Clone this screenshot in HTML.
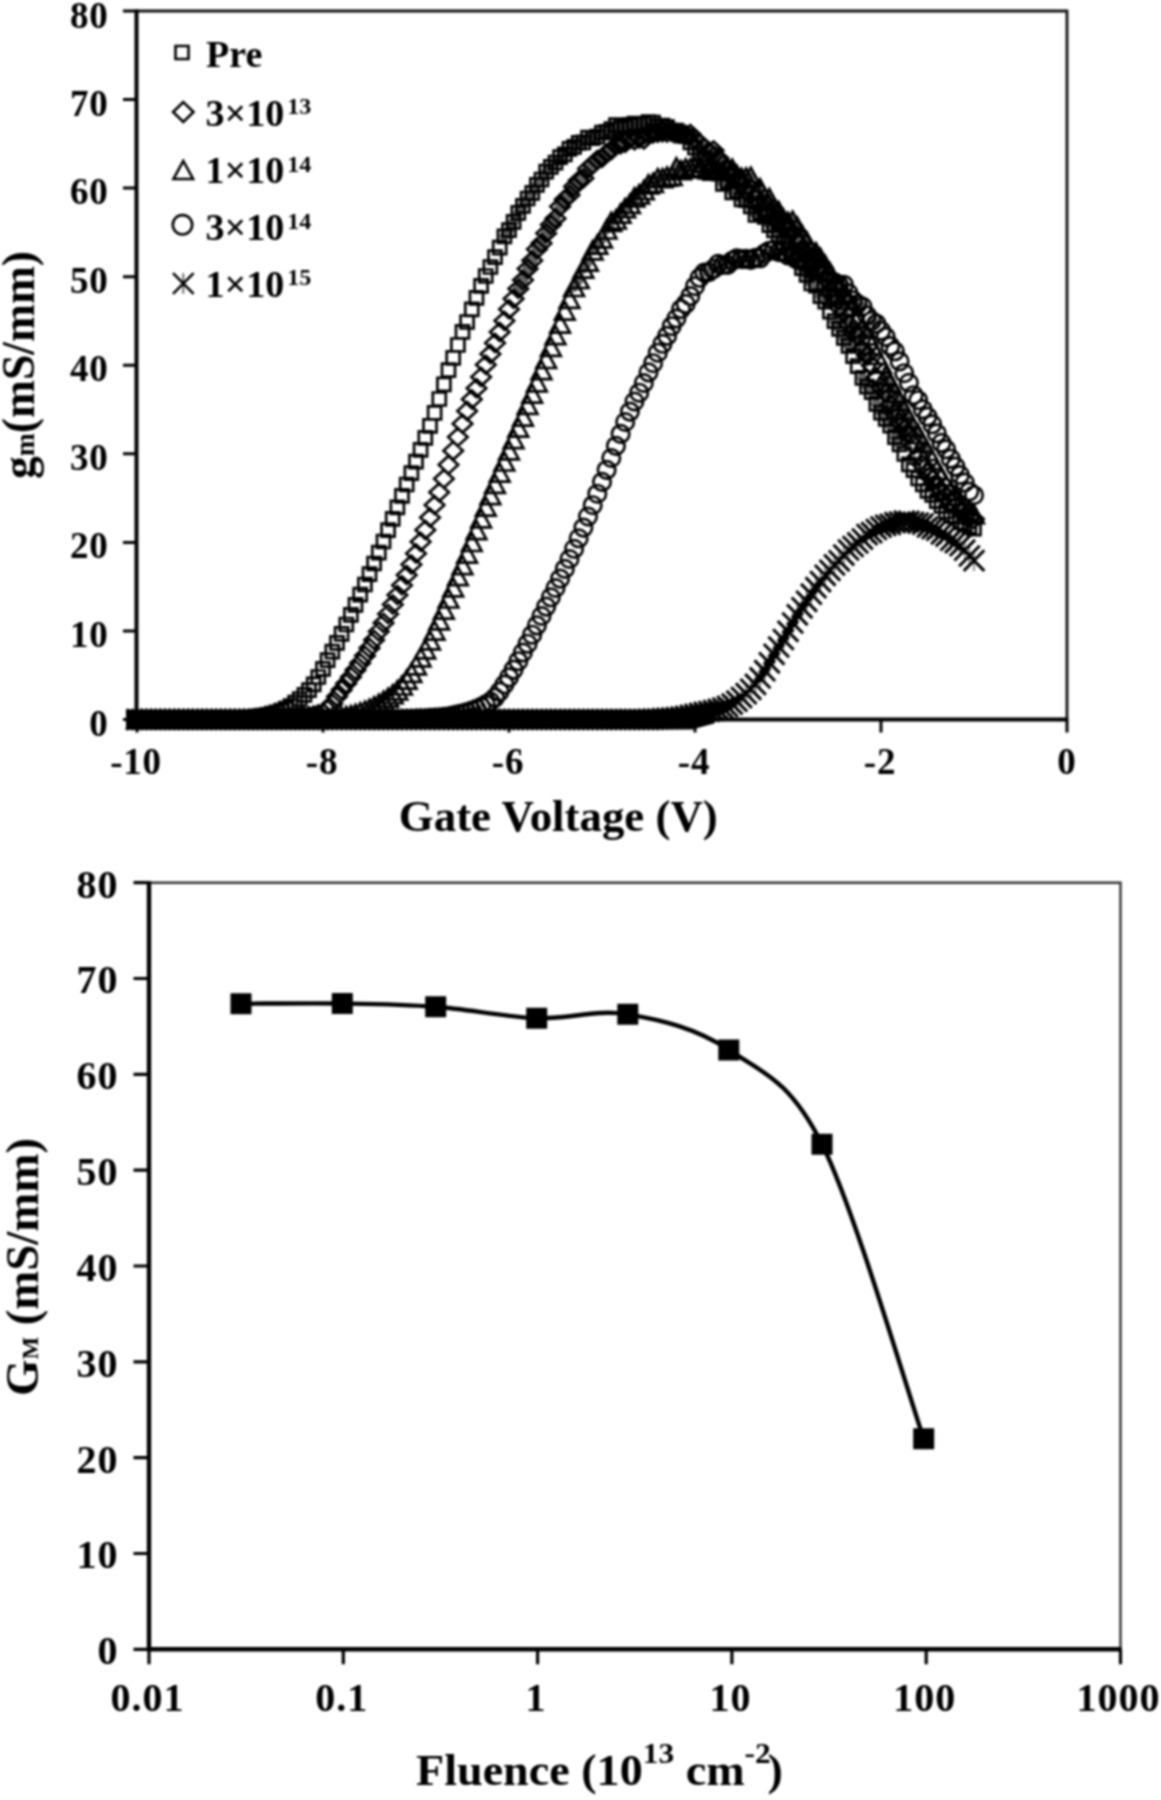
<!DOCTYPE html>
<html lang="en"><head><meta charset="utf-8"><title>Transconductance versus gate voltage and fluence</title>
<style>html,body{margin:0;padding:0;background:#fff}body{width:1161px;height:1800px;overflow:hidden}svg{display:block;filter:blur(0.8px)}text{font-family:"Liberation Serif","Times New Roman",serif;font-weight:bold;fill:#000}</style></head><body>
<svg width="1161" height="1800" viewBox="0 0 1161 1800">
<rect width="1161" height="1800" fill="#fff"/>
<g>
<g id="top-chart">
<path d="M137 11H1067V719.5" fill="none" stroke="#111" stroke-width="2.8"/>
<path d="M136.5 9.5V719.5H1068.2" fill="none" stroke="#000" stroke-width="4"/>
<path d="M123 719.5H137M123 630.9H137M123 542.4H137M123 453.8H137M123 365.2H137M123 276.7H137M123 188.1H137M123 99.6H137M123 11H137M137 719.5V732.5M323 719.5V732.5M509 719.5V732.5M695 719.5V732.5M881 719.5V732.5M1067 719.5V732.5" fill="none" stroke="#000" stroke-width="3"/>
<g font-size="37" text-anchor="end" letter-spacing="0.8">
<text x="108.5" y="735.5">0</text>
<text x="108.5" y="646.9">10</text>
<text x="108.5" y="558.4">20</text>
<text x="108.5" y="469.8">30</text>
<text x="108.5" y="381.2">40</text>
<text x="108.5" y="292.7">50</text>
<text x="108.5" y="204.1">60</text>
<text x="108.5" y="115.6">70</text>
<text x="108.5" y="27.5">80</text>
</g>
<g font-size="37" text-anchor="middle" letter-spacing="0.8">
<text x="136" y="773.5">-10</text>
<text x="322" y="773.5">-8</text>
<text x="508" y="773.5">-6</text>
<text x="694" y="773.5">-4</text>
<text x="880" y="773.5">-2</text>
<text x="1067" y="773.5">0</text>
</g>
<text x="558.3" y="830.8" font-size="44" text-anchor="middle" textLength="319" lengthAdjust="spacingAndGlyphs">Gate Voltage (V)</text>
<text transform="translate(33.8 479) rotate(-90)" font-size="46" textLength="228" lengthAdjust="spacingAndGlyphs">g<tspan font-size="28">m</tspan>(mS/mm)</text>
<path d="M126 709.5h566l22 6v8l-22 6H126z" fill="#000"/>
<g fill="none" stroke="#000" stroke-linejoin="round" stroke-linecap="round" opacity="0.6">
<path stroke-width="10" d="M504.4 236.3L509 230.2L513.6 221.8M518.3 212.9L523 205.8L527.6 198.5L532.2 192.8L536.9 184.9L541.5 179.5L546.2 171.6L550.9 166.9L555.5 162.7L560.1 157.2L564.8 154.4L569.5 148.9L574.1 146.8L578.8 142.8L583.4 142.4L588 137.6L592.7 138.1L597.4 136.7L602 132.6L606.6 131.8L611.3 129L616 125.1L620.6 128.1L625.2 126.9L629.9 124.9L634.5 123.7L639.2 123.9L643.9 123.5L648.5 122L653.1 122.5L657.8 125.8L662.5 125.6L667.1 127.1L671.8 130.9L676.4 130.5L681 135.6L685.7 136.1L690.4 142.4L695 147.6L699.6 154L704.3 157.9M709 167.6L713.6 171.1L718.2 172.8M722.9 183.8L727.5 181.5M732.2 192.4L736.9 191L741.5 199.4L746.1 200.2L750.8 206.4L755.5 215L760.1 212.9L764.8 216.9L769.4 225.1L774 230.4L778.7 235.2L783.4 242.6L788 243.7M792.6 253.9L797.3 259.5L802 268.1L806.6 274.9L811.2 283.5L815.9 285.6M820.5 296.1L825.2 301.7M834.5 321.1L839.1 328.8M843.8 337.9L848.5 345.9M862.4 377.9L867 386.7L871.7 392.1M876.4 403.9L881 412.6L885.7 418.8L890.3 425.6M895 437.2L899.6 444.4"/>
<path stroke-width="11" d="M518.3 288.7L523 280M527.6 268.7L532.2 260.6M536.9 249.2L541.5 243.2M546.2 233.2L550.9 224.7L555.5 218.4M560.1 206.6L564.8 199.5L569.5 195L574.1 186.6L578.8 180.5L583.4 178.2M588 168.7L592.7 164.3L597.4 160L602 157.7L606.6 153.2L611.3 149.9L616 145.4L620.6 144.3L625.2 142.8L629.9 139L634.5 140.2L639.2 138.6L643.9 139.4L648.5 133.6L653.1 133.5L657.8 132.7L662.5 132.3L667.1 132.6L671.8 132L676.4 132.8L681 133.5L685.7 134.7L690.4 134.1L695 138.9L699.6 143.3L704.3 147.5L709 151.4L713.6 150.5L718.2 158.1L722.9 164.4L727.5 170.6L732.2 177.4L736.9 179.6L741.5 182.1L746.1 189.8L750.8 194.1L755.5 198.8L760.1 202.7L764.8 211.5L769.4 212.8L774 218.8L778.7 219.2L783.4 227.7L788 229.3L792.6 232.3M797.3 242.2L802 248.9L806.6 253.5L811.2 260.7M815.9 269.9L820.5 274L825.2 278.1M829.9 290.3L834.5 297.7M839.1 307.2L843.8 312.6M848.5 323.8L853.1 332L857.8 336.4M862.4 349.3L867 355.8M881 386.5L885.7 393.4M890.3 404.9L895 413.6M899.6 422.6L904.2 428.9L908.9 435.4"/>
<path stroke-width="10" d="M574.1 287L578.8 279M583.4 268.7L588 261.6M592.7 250.4L597.4 244.6L602 238.4M606.6 229.5L611.3 221.8L616 219.5L620.6 213.6L625.2 208.1L629.9 203.8L634.5 197.3L639.2 194.4L643.9 190.1L648.5 184.3L653.1 182.8L657.8 178.2L662.5 178.2L667.1 176.6L671.8 175.8L676.4 167.4L681 170.2L685.7 168.3L690.4 168.3L695 167.5L699.6 167.3L704.3 162.8L709 169.4L713.6 170.6L718.2 169.6L722.9 171.1L727.5 167.4L732.2 168.7L736.9 174.8L741.5 177.8L746.1 177.5L750.8 176.7M755.5 191.2L760.1 188.3M764.8 197.7L769.4 198.1M774 208.3L778.7 211.1L783.4 218.6L788 221.8L792.6 220.7L797.3 226.8L802 234.7L806.6 241.2L811.2 249.4L815.9 252.2L820.5 258.1L825.2 265.1L829.9 272.3M834.5 281.7L839.1 286.9L843.8 294.3L848.5 299.5L853.1 306.4M862.4 327.9L867 335.3M885.7 375.4L890.3 382.7M895 392.9L899.6 400.9L904.2 409.8L908.9 418.6L913.5 426.8L918.2 434.1L922.8 442.9L927.5 451"/>
<path stroke-width="9" d="M704.3 272.6L709 272.1L713.6 268.9M718.2 263.8L722.9 265L727.5 264.9L732.2 260.9L736.9 258.4L741.5 259.1L746.1 258.9L750.8 259.9L755.5 257.7L760.1 258.3M764.8 253.5L769.4 250.7L774 249.7L778.7 252.1L783.4 251.4L788 255.5L792.6 256L797.3 259.6L802 257.6M806.6 262.6L811.2 266.5L815.9 268.4L820.5 270.9L825.2 272M829.9 279.8L834.5 282.2L839.1 285.2L843.8 284.7M853.1 300.4L857.8 304L862.4 306.5M871.7 320.8L876.4 323.6"/>
</g>
<g fill="none" stroke="#000" stroke-width="2.7" stroke-linejoin="miter">
<path d="M130.5 713h13v13h-13zM135.2 713h13v13h-13zM139.8 713h13v13h-13zM144.5 713h13v13h-13zM149.1 713h13v13h-13zM153.8 713h13v13h-13zM158.4 713h13v13h-13zM163 713h13v13h-13zM167.7 713h13v13h-13zM172.3 713h13v13h-13zM177 713h13v13h-13zM181.7 713h13v13h-13zM186.3 713h13v13h-13zM191 713h13v13h-13zM195.6 713h13v13h-13zM200.2 713h13v13h-13zM204.9 712.9h13v13h-13zM209.5 712.8h13v13h-13zM214.2 712.6h13v13h-13zM218.8 712.4h13v13h-13zM223.5 712.2h13v13h-13zM228.2 711.9h13v13h-13zM232.8 711.7h13v13h-13zM237.5 711.4h13v13h-13zM242.1 711h13v13h-13zM246.8 710.5h13v13h-13zM251.4 709.9h13v13h-13zM256 709.2h13v13h-13zM260.7 708.3h13v13h-13zM265.3 707.2h13v13h-13zM270 705.8h13v13h-13zM274.7 704.2h13v13h-13zM279.3 702.2h13v13h-13zM284 699.5h13v13h-13zM288.6 696.2h13v13h-13zM293.2 692.5h13v13h-13zM297.9 688.3h13v13h-13zM302.5 683.7h13v13h-13zM307.2 677.8h13v13h-13zM311.8 670.5h13v13h-13zM316.5 662.3h13v13h-13zM321.1 653.7h13v13h-13zM325.8 645.1h13v13h-13zM330.5 636.4h13v13h-13zM335.1 627.4h13v13h-13zM339.8 618h13v13h-13zM344.4 608.3h13v13h-13zM349 598.3h13v13h-13zM353.7 588.2h13v13h-13zM358.4 578h13v13h-13zM363 567.6h13v13h-13zM367.6 557h13v13h-13zM372.3 546.1h13v13h-13zM377 535h13v13h-13zM381.6 523.7h13v13h-13zM386.2 512.3h13v13h-13zM390.9 500.8h13v13h-13zM395.5 489.4h13v13h-13zM400.2 478h13v13h-13zM404.9 466.6h13v13h-13zM409.5 455.1h13v13h-13zM414.1 443.4h13v13h-13zM418.8 431.4h13v13h-13zM423.5 419.3h13v13h-13zM428.1 406.4h13v13h-13zM432.8 392.5h13v13h-13zM437.4 377.9h13v13h-13zM442 363.6h13v13h-13zM446.7 351.4h13v13h-13zM451.4 338.5h13v13h-13zM456 325.3h13v13h-13zM460.6 315.5h13v13h-13zM465.3 302.8h13v13h-13zM470 291.4h13v13h-13zM474.6 279.3h13v13h-13zM479.2 269.5h13v13h-13zM483.9 260.5h13v13h-13zM488.5 250.7h13v13h-13zM493.2 241.2h13v13h-13zM497.9 229.8h13v13h-13zM502.5 223.7h13v13h-13zM507.1 215.3h13v13h-13zM511.8 206.4h13v13h-13zM516.5 199.3h13v13h-13zM521.1 192h13v13h-13zM525.8 186.3h13v13h-13zM530.4 178.4h13v13h-13zM535 173h13v13h-13zM539.7 165.1h13v13h-13zM544.4 160.4h13v13h-13zM549 156.2h13v13h-13zM553.6 150.7h13v13h-13zM558.3 147.9h13v13h-13zM563 142.4h13v13h-13zM567.6 140.3h13v13h-13zM572.2 136.3h13v13h-13zM576.9 135.9h13v13h-13zM581.5 131.1h13v13h-13zM586.2 131.6h13v13h-13zM590.9 130.2h13v13h-13zM595.5 126.1h13v13h-13zM600.1 125.3h13v13h-13zM604.8 122.5h13v13h-13zM609.5 118.6h13v13h-13zM614.1 121.6h13v13h-13zM618.8 120.4h13v13h-13zM623.4 118.4h13v13h-13zM628 117.2h13v13h-13zM632.7 117.4h13v13h-13zM637.4 117h13v13h-13zM642 115.5h13v13h-13zM646.6 116h13v13h-13zM651.3 119.3h13v13h-13zM656 119.1h13v13h-13zM660.6 120.6h13v13h-13zM665.2 124.4h13v13h-13zM669.9 124h13v13h-13zM674.5 129.1h13v13h-13zM679.2 129.6h13v13h-13zM683.9 135.9h13v13h-13zM688.5 141.1h13v13h-13zM693.1 147.5h13v13h-13zM697.8 151.4h13v13h-13zM702.5 161.1h13v13h-13zM707.1 164.6h13v13h-13zM711.8 166.3h13v13h-13zM716.4 177.3h13v13h-13zM721 175h13v13h-13zM725.7 185.9h13v13h-13zM730.4 184.5h13v13h-13zM735 192.9h13v13h-13zM739.6 193.7h13v13h-13zM744.3 199.9h13v13h-13zM749 208.5h13v13h-13zM753.6 206.4h13v13h-13zM758.2 210.4h13v13h-13zM762.9 218.6h13v13h-13zM767.5 223.9h13v13h-13zM772.2 228.7h13v13h-13zM776.9 236.1h13v13h-13zM781.5 237.2h13v13h-13zM786.1 247.4h13v13h-13zM790.8 253h13v13h-13zM795.5 261.6h13v13h-13zM800.1 268.4h13v13h-13zM804.8 277h13v13h-13zM809.4 279.1h13v13h-13zM814 289.6h13v13h-13zM818.7 295.2h13v13h-13zM823.4 305.1h13v13h-13zM828 314.6h13v13h-13zM832.6 322.3h13v13h-13zM837.3 331.4h13v13h-13zM842 339.4h13v13h-13zM846.6 349.7h13v13h-13zM851.2 359.6h13v13h-13zM855.9 371.4h13v13h-13zM860.5 380.2h13v13h-13zM865.2 385.6h13v13h-13zM869.9 397.4h13v13h-13zM874.5 406.1h13v13h-13zM879.2 412.3h13v13h-13zM883.8 419.1h13v13h-13zM888.5 430.7h13v13h-13zM893.1 437.9h13v13h-13zM897.8 447.5h13v13h-13zM902.4 457.8h13v13h-13zM907 463.7h13v13h-13zM911.7 472h13v13h-13zM916.3 477.8h13v13h-13zM921 484.3h13v13h-13zM925.7 488.4h13v13h-13zM930.3 494.7h13v13h-13zM935 499.3h13v13h-13zM939.6 505h13v13h-13zM944.2 509.3h13v13h-13zM948.9 510.5h13v13h-13zM953.5 515.8h13v13h-13zM958.2 517.7h13v13h-13zM962.9 520.2h13v13h-13zM967.5 522.2h13v13h-13z"/>
<path d="M137 710.6l9.7 8.9l-9.7 8.9l-9.7 -8.9zM141.7 710.6l9.7 8.9l-9.7 8.9l-9.7 -8.9zM146.3 710.6l9.7 8.9l-9.7 8.9l-9.7 -8.9zM151 710.6l9.7 8.9l-9.7 8.9l-9.7 -8.9zM155.6 710.6l9.7 8.9l-9.7 8.9l-9.7 -8.9zM160.2 710.6l9.7 8.9l-9.7 8.9l-9.7 -8.9zM164.9 710.6l9.7 8.9l-9.7 8.9l-9.7 -8.9zM169.5 710.6l9.7 8.9l-9.7 8.9l-9.7 -8.9zM174.2 710.6l9.7 8.9l-9.7 8.9l-9.7 -8.9zM178.8 710.6l9.7 8.9l-9.7 8.9l-9.7 -8.9zM183.5 710.6l9.7 8.9l-9.7 8.9l-9.7 -8.9zM188.2 710.6l9.7 8.9l-9.7 8.9l-9.7 -8.9zM192.8 710.6l9.7 8.9l-9.7 8.9l-9.7 -8.9zM197.5 710.6l9.7 8.9l-9.7 8.9l-9.7 -8.9zM202.1 710.6l9.7 8.9l-9.7 8.9l-9.7 -8.9zM206.8 710.6l9.7 8.9l-9.7 8.9l-9.7 -8.9zM211.4 710.6l9.7 8.9l-9.7 8.9l-9.7 -8.9zM216 710.6l9.7 8.9l-9.7 8.9l-9.7 -8.9zM220.7 710.6l9.7 8.9l-9.7 8.9l-9.7 -8.9zM225.3 710.6l9.7 8.9l-9.7 8.9l-9.7 -8.9zM230 710.6l9.7 8.9l-9.7 8.9l-9.7 -8.9zM234.7 710.6l9.7 8.9l-9.7 8.9l-9.7 -8.9zM239.3 710.6l9.7 8.9l-9.7 8.9l-9.7 -8.9zM244 710.6l9.7 8.9l-9.7 8.9l-9.7 -8.9zM248.6 710.6l9.7 8.9l-9.7 8.9l-9.7 -8.9zM253.2 710.6l9.7 8.9l-9.7 8.9l-9.7 -8.9zM257.9 710.5l9.7 8.9l-9.7 8.9l-9.7 -8.9zM262.5 710.3l9.7 8.9l-9.7 8.9l-9.7 -8.9zM267.2 710.2l9.7 8.9l-9.7 8.9l-9.7 -8.9zM271.8 710l9.7 8.9l-9.7 8.9l-9.7 -8.9zM276.5 709.7l9.7 8.9l-9.7 8.9l-9.7 -8.9zM281.2 709.5l9.7 8.9l-9.7 8.9l-9.7 -8.9zM285.8 709.3l9.7 8.9l-9.7 8.9l-9.7 -8.9zM290.5 709l9.7 8.9l-9.7 8.9l-9.7 -8.9zM295.1 708.7l9.7 8.9l-9.7 8.9l-9.7 -8.9zM299.8 708.4l9.7 8.9l-9.7 8.9l-9.7 -8.9zM304.4 707.9l9.7 8.9l-9.7 8.9l-9.7 -8.9zM309 707.3l9.7 8.9l-9.7 8.9l-9.7 -8.9zM313.7 706.5l9.7 8.9l-9.7 8.9l-9.7 -8.9zM318.3 705.4l9.7 8.9l-9.7 8.9l-9.7 -8.9zM323 703.9l9.7 8.9l-9.7 8.9l-9.7 -8.9zM327.6 700.8l9.7 8.9l-9.7 8.9l-9.7 -8.9zM332.3 694.9l9.7 8.9l-9.7 8.9l-9.7 -8.9zM337 687.7l9.7 8.9l-9.7 8.9l-9.7 -8.9zM341.6 681l9.7 8.9l-9.7 8.9l-9.7 -8.9zM346.2 674.6l9.7 8.9l-9.7 8.9l-9.7 -8.9zM350.9 668l9.7 8.9l-9.7 8.9l-9.7 -8.9zM355.5 661.2l9.7 8.9l-9.7 8.9l-9.7 -8.9zM360.2 654.2l9.7 8.9l-9.7 8.9l-9.7 -8.9zM364.9 646.8l9.7 8.9l-9.7 8.9l-9.7 -8.9zM369.5 639l9.7 8.9l-9.7 8.9l-9.7 -8.9zM374.1 631l9.7 8.9l-9.7 8.9l-9.7 -8.9zM378.8 622.6l9.7 8.9l-9.7 8.9l-9.7 -8.9zM383.5 614l9.7 8.9l-9.7 8.9l-9.7 -8.9zM388.1 605l9.7 8.9l-9.7 8.9l-9.7 -8.9zM392.8 595.7l9.7 8.9l-9.7 8.9l-9.7 -8.9zM397.4 586.2l9.7 8.9l-9.7 8.9l-9.7 -8.9zM402 576.4l9.7 8.9l-9.7 8.9l-9.7 -8.9zM406.7 566.2l9.7 8.9l-9.7 8.9l-9.7 -8.9zM411.4 555.7l9.7 8.9l-9.7 8.9l-9.7 -8.9zM416 544.5l9.7 8.9l-9.7 8.9l-9.7 -8.9zM420.6 532.9l9.7 8.9l-9.7 8.9l-9.7 -8.9zM425.3 521l9.7 8.9l-9.7 8.9l-9.7 -8.9zM430 508.7l9.7 8.9l-9.7 8.9l-9.7 -8.9zM434.6 496.2l9.7 8.9l-9.7 8.9l-9.7 -8.9zM439.2 483.4l9.7 8.9l-9.7 8.9l-9.7 -8.9zM443.9 469.9l9.7 8.9l-9.7 8.9l-9.7 -8.9zM448.5 455.9l9.7 8.9l-9.7 8.9l-9.7 -8.9zM453.2 441.8l9.7 8.9l-9.7 8.9l-9.7 -8.9zM457.9 428.2l9.7 8.9l-9.7 8.9l-9.7 -8.9zM462.5 414.8l9.7 8.9l-9.7 8.9l-9.7 -8.9zM467.1 402l9.7 8.9l-9.7 8.9l-9.7 -8.9zM471.8 390.4l9.7 8.9l-9.7 8.9l-9.7 -8.9zM476.5 379.3l9.7 8.9l-9.7 8.9l-9.7 -8.9zM481.1 368l9.7 8.9l-9.7 8.9l-9.7 -8.9zM485.8 355.8l9.7 8.9l-9.7 8.9l-9.7 -8.9zM490.4 345.2l9.7 8.9l-9.7 8.9l-9.7 -8.9zM495 334.1l9.7 8.9l-9.7 8.9l-9.7 -8.9zM499.7 323l9.7 8.9l-9.7 8.9l-9.7 -8.9zM504.4 311.9l9.7 8.9l-9.7 8.9l-9.7 -8.9zM509 300.3l9.7 8.9l-9.7 8.9l-9.7 -8.9zM513.6 289.8l9.7 8.9l-9.7 8.9l-9.7 -8.9zM518.3 279.8l9.7 8.9l-9.7 8.9l-9.7 -8.9zM523 271.1l9.7 8.9l-9.7 8.9l-9.7 -8.9zM527.6 259.8l9.7 8.9l-9.7 8.9l-9.7 -8.9zM532.2 251.7l9.7 8.9l-9.7 8.9l-9.7 -8.9zM536.9 240.3l9.7 8.9l-9.7 8.9l-9.7 -8.9zM541.5 234.3l9.7 8.9l-9.7 8.9l-9.7 -8.9zM546.2 224.3l9.7 8.9l-9.7 8.9l-9.7 -8.9zM550.9 215.8l9.7 8.9l-9.7 8.9l-9.7 -8.9zM555.5 209.5l9.7 8.9l-9.7 8.9l-9.7 -8.9zM560.1 197.7l9.7 8.9l-9.7 8.9l-9.7 -8.9zM564.8 190.6l9.7 8.9l-9.7 8.9l-9.7 -8.9zM569.5 186.1l9.7 8.9l-9.7 8.9l-9.7 -8.9zM574.1 177.7l9.7 8.9l-9.7 8.9l-9.7 -8.9zM578.8 171.6l9.7 8.9l-9.7 8.9l-9.7 -8.9zM583.4 169.3l9.7 8.9l-9.7 8.9l-9.7 -8.9zM588 159.8l9.7 8.9l-9.7 8.9l-9.7 -8.9zM592.7 155.4l9.7 8.9l-9.7 8.9l-9.7 -8.9zM597.4 151.1l9.7 8.9l-9.7 8.9l-9.7 -8.9zM602 148.8l9.7 8.9l-9.7 8.9l-9.7 -8.9zM606.6 144.3l9.7 8.9l-9.7 8.9l-9.7 -8.9zM611.3 141l9.7 8.9l-9.7 8.9l-9.7 -8.9zM616 136.5l9.7 8.9l-9.7 8.9l-9.7 -8.9zM620.6 135.4l9.7 8.9l-9.7 8.9l-9.7 -8.9zM625.2 133.9l9.7 8.9l-9.7 8.9l-9.7 -8.9zM629.9 130.1l9.7 8.9l-9.7 8.9l-9.7 -8.9zM634.5 131.3l9.7 8.9l-9.7 8.9l-9.7 -8.9zM639.2 129.7l9.7 8.9l-9.7 8.9l-9.7 -8.9zM643.9 130.5l9.7 8.9l-9.7 8.9l-9.7 -8.9zM648.5 124.7l9.7 8.9l-9.7 8.9l-9.7 -8.9zM653.1 124.6l9.7 8.9l-9.7 8.9l-9.7 -8.9zM657.8 123.8l9.7 8.9l-9.7 8.9l-9.7 -8.9zM662.5 123.4l9.7 8.9l-9.7 8.9l-9.7 -8.9zM667.1 123.7l9.7 8.9l-9.7 8.9l-9.7 -8.9zM671.8 123.1l9.7 8.9l-9.7 8.9l-9.7 -8.9zM676.4 123.9l9.7 8.9l-9.7 8.9l-9.7 -8.9zM681 124.6l9.7 8.9l-9.7 8.9l-9.7 -8.9zM685.7 125.8l9.7 8.9l-9.7 8.9l-9.7 -8.9zM690.4 125.2l9.7 8.9l-9.7 8.9l-9.7 -8.9zM695 130l9.7 8.9l-9.7 8.9l-9.7 -8.9zM699.6 134.4l9.7 8.9l-9.7 8.9l-9.7 -8.9zM704.3 138.6l9.7 8.9l-9.7 8.9l-9.7 -8.9zM709 142.5l9.7 8.9l-9.7 8.9l-9.7 -8.9zM713.6 141.6l9.7 8.9l-9.7 8.9l-9.7 -8.9zM718.2 149.2l9.7 8.9l-9.7 8.9l-9.7 -8.9zM722.9 155.5l9.7 8.9l-9.7 8.9l-9.7 -8.9zM727.5 161.7l9.7 8.9l-9.7 8.9l-9.7 -8.9zM732.2 168.5l9.7 8.9l-9.7 8.9l-9.7 -8.9zM736.9 170.7l9.7 8.9l-9.7 8.9l-9.7 -8.9zM741.5 173.2l9.7 8.9l-9.7 8.9l-9.7 -8.9zM746.1 180.9l9.7 8.9l-9.7 8.9l-9.7 -8.9zM750.8 185.2l9.7 8.9l-9.7 8.9l-9.7 -8.9zM755.5 189.9l9.7 8.9l-9.7 8.9l-9.7 -8.9zM760.1 193.8l9.7 8.9l-9.7 8.9l-9.7 -8.9zM764.8 202.6l9.7 8.9l-9.7 8.9l-9.7 -8.9zM769.4 203.9l9.7 8.9l-9.7 8.9l-9.7 -8.9zM774 209.9l9.7 8.9l-9.7 8.9l-9.7 -8.9zM778.7 210.3l9.7 8.9l-9.7 8.9l-9.7 -8.9zM783.4 218.8l9.7 8.9l-9.7 8.9l-9.7 -8.9zM788 220.4l9.7 8.9l-9.7 8.9l-9.7 -8.9zM792.6 223.4l9.7 8.9l-9.7 8.9l-9.7 -8.9zM797.3 233.3l9.7 8.9l-9.7 8.9l-9.7 -8.9zM802 240l9.7 8.9l-9.7 8.9l-9.7 -8.9zM806.6 244.6l9.7 8.9l-9.7 8.9l-9.7 -8.9zM811.2 251.8l9.7 8.9l-9.7 8.9l-9.7 -8.9zM815.9 261l9.7 8.9l-9.7 8.9l-9.7 -8.9zM820.5 265.1l9.7 8.9l-9.7 8.9l-9.7 -8.9zM825.2 269.2l9.7 8.9l-9.7 8.9l-9.7 -8.9zM829.9 281.4l9.7 8.9l-9.7 8.9l-9.7 -8.9zM834.5 288.8l9.7 8.9l-9.7 8.9l-9.7 -8.9zM839.1 298.3l9.7 8.9l-9.7 8.9l-9.7 -8.9zM843.8 303.7l9.7 8.9l-9.7 8.9l-9.7 -8.9zM848.5 314.9l9.7 8.9l-9.7 8.9l-9.7 -8.9zM853.1 323.1l9.7 8.9l-9.7 8.9l-9.7 -8.9zM857.8 327.5l9.7 8.9l-9.7 8.9l-9.7 -8.9zM862.4 340.4l9.7 8.9l-9.7 8.9l-9.7 -8.9zM867 346.9l9.7 8.9l-9.7 8.9l-9.7 -8.9zM871.7 356.4l9.7 8.9l-9.7 8.9l-9.7 -8.9zM876.4 368.5l9.7 8.9l-9.7 8.9l-9.7 -8.9zM881 377.6l9.7 8.9l-9.7 8.9l-9.7 -8.9zM885.7 384.5l9.7 8.9l-9.7 8.9l-9.7 -8.9zM890.3 396l9.7 8.9l-9.7 8.9l-9.7 -8.9zM895 404.7l9.7 8.9l-9.7 8.9l-9.7 -8.9zM899.6 413.7l9.7 8.9l-9.7 8.9l-9.7 -8.9zM904.2 420l9.7 8.9l-9.7 8.9l-9.7 -8.9zM908.9 426.5l9.7 8.9l-9.7 8.9l-9.7 -8.9zM913.5 436l9.7 8.9l-9.7 8.9l-9.7 -8.9zM918.2 447.1l9.7 8.9l-9.7 8.9l-9.7 -8.9zM922.8 456l9.7 8.9l-9.7 8.9l-9.7 -8.9zM927.5 464l9.7 8.9l-9.7 8.9l-9.7 -8.9zM932.2 470.4l9.7 8.9l-9.7 8.9l-9.7 -8.9zM936.8 477l9.7 8.9l-9.7 8.9l-9.7 -8.9zM941.5 482.4l9.7 8.9l-9.7 8.9l-9.7 -8.9zM946.1 487.8l9.7 8.9l-9.7 8.9l-9.7 -8.9zM950.8 493.7l9.7 8.9l-9.7 8.9l-9.7 -8.9zM955.4 498.2l9.7 8.9l-9.7 8.9l-9.7 -8.9zM960 502.3l9.7 8.9l-9.7 8.9l-9.7 -8.9zM964.7 506.5l9.7 8.9l-9.7 8.9l-9.7 -8.9zM969.4 509.1l9.7 8.9l-9.7 8.9l-9.7 -8.9zM974 510.2l9.7 8.9l-9.7 8.9l-9.7 -8.9z"/>
<path d="M137 710.5l9.8 18h-19.6zM141.7 710.5l9.8 18h-19.6zM146.3 710.5l9.8 18h-19.6zM151 710.5l9.8 18h-19.6zM155.6 710.5l9.8 18h-19.6zM160.2 710.5l9.8 18h-19.6zM164.9 710.5l9.8 18h-19.6zM169.5 710.5l9.8 18h-19.6zM174.2 710.5l9.8 18h-19.6zM178.8 710.5l9.8 18h-19.6zM183.5 710.5l9.8 18h-19.6zM188.2 710.5l9.8 18h-19.6zM192.8 710.5l9.8 18h-19.6zM197.5 710.5l9.8 18h-19.6zM202.1 710.5l9.8 18h-19.6zM206.8 710.5l9.8 18h-19.6zM211.4 710.5l9.8 18h-19.6zM216 710.5l9.8 18h-19.6zM220.7 710.5l9.8 18h-19.6zM225.3 710.5l9.8 18h-19.6zM230 710.5l9.8 18h-19.6zM234.7 710.5l9.8 18h-19.6zM239.3 710.5l9.8 18h-19.6zM244 710.5l9.8 18h-19.6zM248.6 710.5l9.8 18h-19.6zM253.2 710.5l9.8 18h-19.6zM257.9 710.5l9.8 18h-19.6zM262.5 710.5l9.8 18h-19.6zM267.2 710.5l9.8 18h-19.6zM271.8 710.5l9.8 18h-19.6zM276.5 710.5l9.8 18h-19.6zM281.2 710.5l9.8 18h-19.6zM285.8 710.5l9.8 18h-19.6zM290.5 710.5l9.8 18h-19.6zM295.1 710.4l9.8 18h-19.6zM299.8 710.2l9.8 18h-19.6zM304.4 710.1l9.8 18h-19.6zM309 709.9l9.8 18h-19.6zM313.7 709.6l9.8 18h-19.6zM318.3 709.4l9.8 18h-19.6zM323 709.2l9.8 18h-19.6zM327.6 708.9l9.8 18h-19.6zM332.3 708.6l9.8 18h-19.6zM337 708.3l9.8 18h-19.6zM341.6 707.8l9.8 18h-19.6zM346.2 707.1l9.8 18h-19.6zM350.9 706.1l9.8 18h-19.6zM355.5 704.9l9.8 18h-19.6zM360.2 703.4l9.8 18h-19.6zM364.9 701.7l9.8 18h-19.6zM369.5 699.7l9.8 18h-19.6zM374.1 697.3l9.8 18h-19.6zM378.8 694.7l9.8 18h-19.6zM383.5 691.8l9.8 18h-19.6zM388.1 688.7l9.8 18h-19.6zM392.8 685.2l9.8 18h-19.6zM397.4 681.4l9.8 18h-19.6zM402 676.5l9.8 18h-19.6zM406.7 670.6l9.8 18h-19.6zM411.4 663.8l9.8 18h-19.6zM416 656.3l9.8 18h-19.6zM420.6 648.4l9.8 18h-19.6zM425.3 640.3l9.8 18h-19.6zM430 631.4l9.8 18h-19.6zM434.6 621.7l9.8 18h-19.6zM439.2 611.4l9.8 18h-19.6zM443.9 600.6l9.8 18h-19.6zM448.5 589.5l9.8 18h-19.6zM453.2 578.3l9.8 18h-19.6zM457.9 567.2l9.8 18h-19.6zM462.5 556.1l9.8 18h-19.6zM467.1 544.7l9.8 18h-19.6zM471.8 533l9.8 18h-19.6zM476.5 521.2l9.8 18h-19.6zM481.1 509.4l9.8 18h-19.6zM485.8 497.7l9.8 18h-19.6zM490.4 486.2l9.8 18h-19.6zM495 474.9l9.8 18h-19.6zM499.7 463.6l9.8 18h-19.6zM504.4 452.5l9.8 18h-19.6zM509 441.3l9.8 18h-19.6zM513.6 430.2l9.8 18h-19.6zM518.3 418.6l9.8 18h-19.6zM523 407.7l9.8 18h-19.6zM527.6 395.9l9.8 18h-19.6zM532.2 384.7l9.8 18h-19.6zM536.9 373.4l9.8 18h-19.6zM541.5 361.2l9.8 18h-19.6zM546.2 350l9.8 18h-19.6zM550.9 337.9l9.8 18h-19.6zM555.5 326.2l9.8 18h-19.6zM560.1 314.7l9.8 18h-19.6zM564.8 301.7l9.8 18h-19.6zM569.5 289.8l9.8 18h-19.6zM574.1 278l9.8 18h-19.6zM578.8 270l9.8 18h-19.6zM583.4 259.7l9.8 18h-19.6zM588 252.6l9.8 18h-19.6zM592.7 241.4l9.8 18h-19.6zM597.4 235.6l9.8 18h-19.6zM602 229.4l9.8 18h-19.6zM606.6 220.5l9.8 18h-19.6zM611.3 212.8l9.8 18h-19.6zM616 210.5l9.8 18h-19.6zM620.6 204.6l9.8 18h-19.6zM625.2 199.1l9.8 18h-19.6zM629.9 194.8l9.8 18h-19.6zM634.5 188.3l9.8 18h-19.6zM639.2 185.4l9.8 18h-19.6zM643.9 181.1l9.8 18h-19.6zM648.5 175.3l9.8 18h-19.6zM653.1 173.8l9.8 18h-19.6zM657.8 169.2l9.8 18h-19.6zM662.5 169.2l9.8 18h-19.6zM667.1 167.6l9.8 18h-19.6zM671.8 166.8l9.8 18h-19.6zM676.4 158.4l9.8 18h-19.6zM681 161.2l9.8 18h-19.6zM685.7 159.3l9.8 18h-19.6zM690.4 159.3l9.8 18h-19.6zM695 158.5l9.8 18h-19.6zM699.6 158.3l9.8 18h-19.6zM704.3 153.8l9.8 18h-19.6zM709 160.4l9.8 18h-19.6zM713.6 161.6l9.8 18h-19.6zM718.2 160.6l9.8 18h-19.6zM722.9 162.1l9.8 18h-19.6zM727.5 158.4l9.8 18h-19.6zM732.2 159.7l9.8 18h-19.6zM736.9 165.8l9.8 18h-19.6zM741.5 168.8l9.8 18h-19.6zM746.1 168.5l9.8 18h-19.6zM750.8 167.7l9.8 18h-19.6zM755.5 182.2l9.8 18h-19.6zM760.1 179.3l9.8 18h-19.6zM764.8 188.7l9.8 18h-19.6zM769.4 189.1l9.8 18h-19.6zM774 199.3l9.8 18h-19.6zM778.7 202.1l9.8 18h-19.6zM783.4 209.6l9.8 18h-19.6zM788 212.8l9.8 18h-19.6zM792.6 211.7l9.8 18h-19.6zM797.3 217.8l9.8 18h-19.6zM802 225.7l9.8 18h-19.6zM806.6 232.2l9.8 18h-19.6zM811.2 240.4l9.8 18h-19.6zM815.9 243.2l9.8 18h-19.6zM820.5 249.1l9.8 18h-19.6zM825.2 256.1l9.8 18h-19.6zM829.9 263.3l9.8 18h-19.6zM834.5 272.7l9.8 18h-19.6zM839.1 277.9l9.8 18h-19.6zM843.8 285.3l9.8 18h-19.6zM848.5 290.5l9.8 18h-19.6zM853.1 297.4l9.8 18h-19.6zM857.8 309.4l9.8 18h-19.6zM862.4 318.9l9.8 18h-19.6zM867 326.3l9.8 18h-19.6zM871.7 336.1l9.8 18h-19.6zM876.4 345.8l9.8 18h-19.6zM881 354.7l9.8 18h-19.6zM885.7 366.4l9.8 18h-19.6zM890.3 373.7l9.8 18h-19.6zM895 383.9l9.8 18h-19.6zM899.6 391.9l9.8 18h-19.6zM904.2 400.8l9.8 18h-19.6zM908.9 409.6l9.8 18h-19.6zM913.5 417.8l9.8 18h-19.6zM918.2 425.1l9.8 18h-19.6zM922.8 433.9l9.8 18h-19.6zM927.5 442l9.8 18h-19.6zM932.2 451.2l9.8 18h-19.6zM936.8 461.2l9.8 18h-19.6zM941.5 467.6l9.8 18h-19.6zM946.1 475.9l9.8 18h-19.6zM950.8 481.3l9.8 18h-19.6zM955.4 486.8l9.8 18h-19.6zM960 494.1l9.8 18h-19.6zM964.7 496.7l9.8 18h-19.6zM969.4 501.1l9.8 18h-19.6zM974 505.2l9.8 18h-19.6z"/>
<path d="M128.3 719.5a8.7 8.7 0 1 0 17.4 0a8.7 8.7 0 1 0 -17.4 0zM133 719.5a8.7 8.7 0 1 0 17.4 0a8.7 8.7 0 1 0 -17.4 0zM137.6 719.5a8.7 8.7 0 1 0 17.4 0a8.7 8.7 0 1 0 -17.4 0zM142.3 719.5a8.7 8.7 0 1 0 17.4 0a8.7 8.7 0 1 0 -17.4 0zM146.9 719.5a8.7 8.7 0 1 0 17.4 0a8.7 8.7 0 1 0 -17.4 0zM151.6 719.5a8.7 8.7 0 1 0 17.4 0a8.7 8.7 0 1 0 -17.4 0zM156.2 719.5a8.7 8.7 0 1 0 17.4 0a8.7 8.7 0 1 0 -17.4 0zM160.8 719.5a8.7 8.7 0 1 0 17.4 0a8.7 8.7 0 1 0 -17.4 0zM165.5 719.5a8.7 8.7 0 1 0 17.4 0a8.7 8.7 0 1 0 -17.4 0zM170.1 719.5a8.7 8.7 0 1 0 17.4 0a8.7 8.7 0 1 0 -17.4 0zM174.8 719.5a8.7 8.7 0 1 0 17.4 0a8.7 8.7 0 1 0 -17.4 0zM179.5 719.5a8.7 8.7 0 1 0 17.4 0a8.7 8.7 0 1 0 -17.4 0zM184.1 719.5a8.7 8.7 0 1 0 17.4 0a8.7 8.7 0 1 0 -17.4 0zM188.8 719.5a8.7 8.7 0 1 0 17.4 0a8.7 8.7 0 1 0 -17.4 0zM193.4 719.5a8.7 8.7 0 1 0 17.4 0a8.7 8.7 0 1 0 -17.4 0zM198.1 719.5a8.7 8.7 0 1 0 17.4 0a8.7 8.7 0 1 0 -17.4 0zM202.7 719.5a8.7 8.7 0 1 0 17.4 0a8.7 8.7 0 1 0 -17.4 0zM207.3 719.5a8.7 8.7 0 1 0 17.4 0a8.7 8.7 0 1 0 -17.4 0zM212 719.5a8.7 8.7 0 1 0 17.4 0a8.7 8.7 0 1 0 -17.4 0zM216.6 719.5a8.7 8.7 0 1 0 17.4 0a8.7 8.7 0 1 0 -17.4 0zM221.3 719.5a8.7 8.7 0 1 0 17.4 0a8.7 8.7 0 1 0 -17.4 0zM226 719.5a8.7 8.7 0 1 0 17.4 0a8.7 8.7 0 1 0 -17.4 0zM230.6 719.5a8.7 8.7 0 1 0 17.4 0a8.7 8.7 0 1 0 -17.4 0zM235.3 719.5a8.7 8.7 0 1 0 17.4 0a8.7 8.7 0 1 0 -17.4 0zM239.9 719.5a8.7 8.7 0 1 0 17.4 0a8.7 8.7 0 1 0 -17.4 0zM244.6 719.5a8.7 8.7 0 1 0 17.4 0a8.7 8.7 0 1 0 -17.4 0zM249.2 719.5a8.7 8.7 0 1 0 17.4 0a8.7 8.7 0 1 0 -17.4 0zM253.8 719.5a8.7 8.7 0 1 0 17.4 0a8.7 8.7 0 1 0 -17.4 0zM258.5 719.5a8.7 8.7 0 1 0 17.4 0a8.7 8.7 0 1 0 -17.4 0zM263.1 719.5a8.7 8.7 0 1 0 17.4 0a8.7 8.7 0 1 0 -17.4 0zM267.8 719.5a8.7 8.7 0 1 0 17.4 0a8.7 8.7 0 1 0 -17.4 0zM272.5 719.5a8.7 8.7 0 1 0 17.4 0a8.7 8.7 0 1 0 -17.4 0zM277.1 719.5a8.7 8.7 0 1 0 17.4 0a8.7 8.7 0 1 0 -17.4 0zM281.8 719.5a8.7 8.7 0 1 0 17.4 0a8.7 8.7 0 1 0 -17.4 0zM286.4 719.5a8.7 8.7 0 1 0 17.4 0a8.7 8.7 0 1 0 -17.4 0zM291.1 719.5a8.7 8.7 0 1 0 17.4 0a8.7 8.7 0 1 0 -17.4 0zM295.7 719.5a8.7 8.7 0 1 0 17.4 0a8.7 8.7 0 1 0 -17.4 0zM300.3 719.5a8.7 8.7 0 1 0 17.4 0a8.7 8.7 0 1 0 -17.4 0zM305 719.5a8.7 8.7 0 1 0 17.4 0a8.7 8.7 0 1 0 -17.4 0zM309.6 719.5a8.7 8.7 0 1 0 17.4 0a8.7 8.7 0 1 0 -17.4 0zM314.3 719.5a8.7 8.7 0 1 0 17.4 0a8.7 8.7 0 1 0 -17.4 0zM318.9 719.5a8.7 8.7 0 1 0 17.4 0a8.7 8.7 0 1 0 -17.4 0zM323.6 719.5a8.7 8.7 0 1 0 17.4 0a8.7 8.7 0 1 0 -17.4 0zM328.3 719.5a8.7 8.7 0 1 0 17.4 0a8.7 8.7 0 1 0 -17.4 0zM332.9 719.5a8.7 8.7 0 1 0 17.4 0a8.7 8.7 0 1 0 -17.4 0zM337.6 719.5a8.7 8.7 0 1 0 17.4 0a8.7 8.7 0 1 0 -17.4 0zM342.2 719.5a8.7 8.7 0 1 0 17.4 0a8.7 8.7 0 1 0 -17.4 0zM346.8 719.5a8.7 8.7 0 1 0 17.4 0a8.7 8.7 0 1 0 -17.4 0zM351.5 719.5a8.7 8.7 0 1 0 17.4 0a8.7 8.7 0 1 0 -17.4 0zM356.2 719.5a8.7 8.7 0 1 0 17.4 0a8.7 8.7 0 1 0 -17.4 0zM360.8 719.5a8.7 8.7 0 1 0 17.4 0a8.7 8.7 0 1 0 -17.4 0zM365.4 719.5a8.7 8.7 0 1 0 17.4 0a8.7 8.7 0 1 0 -17.4 0zM370.1 719.5a8.7 8.7 0 1 0 17.4 0a8.7 8.7 0 1 0 -17.4 0zM374.8 719.5a8.7 8.7 0 1 0 17.4 0a8.7 8.7 0 1 0 -17.4 0zM379.4 719.5a8.7 8.7 0 1 0 17.4 0a8.7 8.7 0 1 0 -17.4 0zM384.1 719.5a8.7 8.7 0 1 0 17.4 0a8.7 8.7 0 1 0 -17.4 0zM388.7 719.4a8.7 8.7 0 1 0 17.4 0a8.7 8.7 0 1 0 -17.4 0zM393.3 719.2a8.7 8.7 0 1 0 17.4 0a8.7 8.7 0 1 0 -17.4 0zM398 719.1a8.7 8.7 0 1 0 17.4 0a8.7 8.7 0 1 0 -17.4 0zM402.7 718.9a8.7 8.7 0 1 0 17.4 0a8.7 8.7 0 1 0 -17.4 0zM407.3 718.6a8.7 8.7 0 1 0 17.4 0a8.7 8.7 0 1 0 -17.4 0zM411.9 718.4a8.7 8.7 0 1 0 17.4 0a8.7 8.7 0 1 0 -17.4 0zM416.6 718.2a8.7 8.7 0 1 0 17.4 0a8.7 8.7 0 1 0 -17.4 0zM421.3 717.9a8.7 8.7 0 1 0 17.4 0a8.7 8.7 0 1 0 -17.4 0zM425.9 717.6a8.7 8.7 0 1 0 17.4 0a8.7 8.7 0 1 0 -17.4 0zM430.6 717.3a8.7 8.7 0 1 0 17.4 0a8.7 8.7 0 1 0 -17.4 0zM435.2 716.8a8.7 8.7 0 1 0 17.4 0a8.7 8.7 0 1 0 -17.4 0zM439.8 716.2a8.7 8.7 0 1 0 17.4 0a8.7 8.7 0 1 0 -17.4 0zM444.5 715.4a8.7 8.7 0 1 0 17.4 0a8.7 8.7 0 1 0 -17.4 0zM449.2 714.4a8.7 8.7 0 1 0 17.4 0a8.7 8.7 0 1 0 -17.4 0zM453.8 713.3a8.7 8.7 0 1 0 17.4 0a8.7 8.7 0 1 0 -17.4 0zM458.4 712a8.7 8.7 0 1 0 17.4 0a8.7 8.7 0 1 0 -17.4 0zM463.1 710.5a8.7 8.7 0 1 0 17.4 0a8.7 8.7 0 1 0 -17.4 0zM467.8 708.8a8.7 8.7 0 1 0 17.4 0a8.7 8.7 0 1 0 -17.4 0zM472.4 706.8a8.7 8.7 0 1 0 17.4 0a8.7 8.7 0 1 0 -17.4 0zM477.1 704.4a8.7 8.7 0 1 0 17.4 0a8.7 8.7 0 1 0 -17.4 0zM481.7 701.5a8.7 8.7 0 1 0 17.4 0a8.7 8.7 0 1 0 -17.4 0zM486.3 697.6a8.7 8.7 0 1 0 17.4 0a8.7 8.7 0 1 0 -17.4 0zM491 691.6a8.7 8.7 0 1 0 17.4 0a8.7 8.7 0 1 0 -17.4 0zM495.7 684.5a8.7 8.7 0 1 0 17.4 0a8.7 8.7 0 1 0 -17.4 0zM500.3 677.3a8.7 8.7 0 1 0 17.4 0a8.7 8.7 0 1 0 -17.4 0zM504.9 669.6a8.7 8.7 0 1 0 17.4 0a8.7 8.7 0 1 0 -17.4 0zM509.6 661.2a8.7 8.7 0 1 0 17.4 0a8.7 8.7 0 1 0 -17.4 0zM514.2 652.5a8.7 8.7 0 1 0 17.4 0a8.7 8.7 0 1 0 -17.4 0zM518.9 643.7a8.7 8.7 0 1 0 17.4 0a8.7 8.7 0 1 0 -17.4 0zM523.5 634.7a8.7 8.7 0 1 0 17.4 0a8.7 8.7 0 1 0 -17.4 0zM528.2 625.4a8.7 8.7 0 1 0 17.4 0a8.7 8.7 0 1 0 -17.4 0zM532.8 616a8.7 8.7 0 1 0 17.4 0a8.7 8.7 0 1 0 -17.4 0zM537.5 606.6a8.7 8.7 0 1 0 17.4 0a8.7 8.7 0 1 0 -17.4 0zM542.1 597.3a8.7 8.7 0 1 0 17.4 0a8.7 8.7 0 1 0 -17.4 0zM546.8 588a8.7 8.7 0 1 0 17.4 0a8.7 8.7 0 1 0 -17.4 0zM551.4 578.6a8.7 8.7 0 1 0 17.4 0a8.7 8.7 0 1 0 -17.4 0zM556.1 568.9a8.7 8.7 0 1 0 17.4 0a8.7 8.7 0 1 0 -17.4 0zM560.8 559a8.7 8.7 0 1 0 17.4 0a8.7 8.7 0 1 0 -17.4 0zM565.4 548.8a8.7 8.7 0 1 0 17.4 0a8.7 8.7 0 1 0 -17.4 0zM570 538.3a8.7 8.7 0 1 0 17.4 0a8.7 8.7 0 1 0 -17.4 0zM574.7 527.6a8.7 8.7 0 1 0 17.4 0a8.7 8.7 0 1 0 -17.4 0zM579.3 516.5a8.7 8.7 0 1 0 17.4 0a8.7 8.7 0 1 0 -17.4 0zM584 505.2a8.7 8.7 0 1 0 17.4 0a8.7 8.7 0 1 0 -17.4 0zM588.6 493.7a8.7 8.7 0 1 0 17.4 0a8.7 8.7 0 1 0 -17.4 0zM593.3 481.9a8.7 8.7 0 1 0 17.4 0a8.7 8.7 0 1 0 -17.4 0zM597.9 469.9a8.7 8.7 0 1 0 17.4 0a8.7 8.7 0 1 0 -17.4 0zM602.6 458a8.7 8.7 0 1 0 17.4 0a8.7 8.7 0 1 0 -17.4 0zM607.2 445.9a8.7 8.7 0 1 0 17.4 0a8.7 8.7 0 1 0 -17.4 0zM611.9 433.9a8.7 8.7 0 1 0 17.4 0a8.7 8.7 0 1 0 -17.4 0zM616.5 422a8.7 8.7 0 1 0 17.4 0a8.7 8.7 0 1 0 -17.4 0zM621.2 411.6a8.7 8.7 0 1 0 17.4 0a8.7 8.7 0 1 0 -17.4 0zM625.8 401.5a8.7 8.7 0 1 0 17.4 0a8.7 8.7 0 1 0 -17.4 0zM630.5 392.7a8.7 8.7 0 1 0 17.4 0a8.7 8.7 0 1 0 -17.4 0zM635.1 383a8.7 8.7 0 1 0 17.4 0a8.7 8.7 0 1 0 -17.4 0zM639.8 372.4a8.7 8.7 0 1 0 17.4 0a8.7 8.7 0 1 0 -17.4 0zM644.4 363.2a8.7 8.7 0 1 0 17.4 0a8.7 8.7 0 1 0 -17.4 0zM649.1 352.7a8.7 8.7 0 1 0 17.4 0a8.7 8.7 0 1 0 -17.4 0zM653.8 343.8a8.7 8.7 0 1 0 17.4 0a8.7 8.7 0 1 0 -17.4 0zM658.4 335.9a8.7 8.7 0 1 0 17.4 0a8.7 8.7 0 1 0 -17.4 0zM663 326.2a8.7 8.7 0 1 0 17.4 0a8.7 8.7 0 1 0 -17.4 0zM667.7 318.5a8.7 8.7 0 1 0 17.4 0a8.7 8.7 0 1 0 -17.4 0zM672.3 309.1a8.7 8.7 0 1 0 17.4 0a8.7 8.7 0 1 0 -17.4 0zM677 303.8a8.7 8.7 0 1 0 17.4 0a8.7 8.7 0 1 0 -17.4 0zM681.6 296.1a8.7 8.7 0 1 0 17.4 0a8.7 8.7 0 1 0 -17.4 0zM686.3 286.2a8.7 8.7 0 1 0 17.4 0a8.7 8.7 0 1 0 -17.4 0zM690.9 277.8a8.7 8.7 0 1 0 17.4 0a8.7 8.7 0 1 0 -17.4 0zM695.6 272.6a8.7 8.7 0 1 0 17.4 0a8.7 8.7 0 1 0 -17.4 0zM700.2 272.1a8.7 8.7 0 1 0 17.4 0a8.7 8.7 0 1 0 -17.4 0zM704.9 268.9a8.7 8.7 0 1 0 17.4 0a8.7 8.7 0 1 0 -17.4 0zM709.5 263.8a8.7 8.7 0 1 0 17.4 0a8.7 8.7 0 1 0 -17.4 0zM714.2 265a8.7 8.7 0 1 0 17.4 0a8.7 8.7 0 1 0 -17.4 0zM718.8 264.9a8.7 8.7 0 1 0 17.4 0a8.7 8.7 0 1 0 -17.4 0zM723.5 260.9a8.7 8.7 0 1 0 17.4 0a8.7 8.7 0 1 0 -17.4 0zM728.1 258.4a8.7 8.7 0 1 0 17.4 0a8.7 8.7 0 1 0 -17.4 0zM732.8 259.1a8.7 8.7 0 1 0 17.4 0a8.7 8.7 0 1 0 -17.4 0zM737.4 258.9a8.7 8.7 0 1 0 17.4 0a8.7 8.7 0 1 0 -17.4 0zM742.1 259.9a8.7 8.7 0 1 0 17.4 0a8.7 8.7 0 1 0 -17.4 0zM746.8 257.7a8.7 8.7 0 1 0 17.4 0a8.7 8.7 0 1 0 -17.4 0zM751.4 258.3a8.7 8.7 0 1 0 17.4 0a8.7 8.7 0 1 0 -17.4 0zM756 253.5a8.7 8.7 0 1 0 17.4 0a8.7 8.7 0 1 0 -17.4 0zM760.7 250.7a8.7 8.7 0 1 0 17.4 0a8.7 8.7 0 1 0 -17.4 0zM765.3 249.7a8.7 8.7 0 1 0 17.4 0a8.7 8.7 0 1 0 -17.4 0zM770 252.1a8.7 8.7 0 1 0 17.4 0a8.7 8.7 0 1 0 -17.4 0zM774.6 251.4a8.7 8.7 0 1 0 17.4 0a8.7 8.7 0 1 0 -17.4 0zM779.3 255.5a8.7 8.7 0 1 0 17.4 0a8.7 8.7 0 1 0 -17.4 0zM783.9 256a8.7 8.7 0 1 0 17.4 0a8.7 8.7 0 1 0 -17.4 0zM788.6 259.6a8.7 8.7 0 1 0 17.4 0a8.7 8.7 0 1 0 -17.4 0zM793.2 257.6a8.7 8.7 0 1 0 17.4 0a8.7 8.7 0 1 0 -17.4 0zM797.9 262.6a8.7 8.7 0 1 0 17.4 0a8.7 8.7 0 1 0 -17.4 0zM802.5 266.5a8.7 8.7 0 1 0 17.4 0a8.7 8.7 0 1 0 -17.4 0zM807.2 268.4a8.7 8.7 0 1 0 17.4 0a8.7 8.7 0 1 0 -17.4 0zM811.8 270.9a8.7 8.7 0 1 0 17.4 0a8.7 8.7 0 1 0 -17.4 0zM816.5 272a8.7 8.7 0 1 0 17.4 0a8.7 8.7 0 1 0 -17.4 0zM821.1 279.8a8.7 8.7 0 1 0 17.4 0a8.7 8.7 0 1 0 -17.4 0zM825.8 282.2a8.7 8.7 0 1 0 17.4 0a8.7 8.7 0 1 0 -17.4 0zM830.4 285.2a8.7 8.7 0 1 0 17.4 0a8.7 8.7 0 1 0 -17.4 0zM835.1 284.7a8.7 8.7 0 1 0 17.4 0a8.7 8.7 0 1 0 -17.4 0zM839.8 293a8.7 8.7 0 1 0 17.4 0a8.7 8.7 0 1 0 -17.4 0zM844.4 300.4a8.7 8.7 0 1 0 17.4 0a8.7 8.7 0 1 0 -17.4 0zM849 304a8.7 8.7 0 1 0 17.4 0a8.7 8.7 0 1 0 -17.4 0zM853.7 306.5a8.7 8.7 0 1 0 17.4 0a8.7 8.7 0 1 0 -17.4 0zM858.3 315.4a8.7 8.7 0 1 0 17.4 0a8.7 8.7 0 1 0 -17.4 0zM863 320.8a8.7 8.7 0 1 0 17.4 0a8.7 8.7 0 1 0 -17.4 0zM867.6 323.6a8.7 8.7 0 1 0 17.4 0a8.7 8.7 0 1 0 -17.4 0zM872.3 330.7a8.7 8.7 0 1 0 17.4 0a8.7 8.7 0 1 0 -17.4 0zM877 336.9a8.7 8.7 0 1 0 17.4 0a8.7 8.7 0 1 0 -17.4 0zM881.6 346.1a8.7 8.7 0 1 0 17.4 0a8.7 8.7 0 1 0 -17.4 0zM886.2 351.3a8.7 8.7 0 1 0 17.4 0a8.7 8.7 0 1 0 -17.4 0zM890.9 361.4a8.7 8.7 0 1 0 17.4 0a8.7 8.7 0 1 0 -17.4 0zM895.5 373.2a8.7 8.7 0 1 0 17.4 0a8.7 8.7 0 1 0 -17.4 0zM900.2 382.8a8.7 8.7 0 1 0 17.4 0a8.7 8.7 0 1 0 -17.4 0zM904.8 395.2a8.7 8.7 0 1 0 17.4 0a8.7 8.7 0 1 0 -17.4 0zM909.5 400.2a8.7 8.7 0 1 0 17.4 0a8.7 8.7 0 1 0 -17.4 0zM914.1 409.4a8.7 8.7 0 1 0 17.4 0a8.7 8.7 0 1 0 -17.4 0zM918.8 416.6a8.7 8.7 0 1 0 17.4 0a8.7 8.7 0 1 0 -17.4 0zM923.5 424.3a8.7 8.7 0 1 0 17.4 0a8.7 8.7 0 1 0 -17.4 0zM928.1 433.4a8.7 8.7 0 1 0 17.4 0a8.7 8.7 0 1 0 -17.4 0zM932.8 442.9a8.7 8.7 0 1 0 17.4 0a8.7 8.7 0 1 0 -17.4 0zM937.4 449.3a8.7 8.7 0 1 0 17.4 0a8.7 8.7 0 1 0 -17.4 0zM942 458.7a8.7 8.7 0 1 0 17.4 0a8.7 8.7 0 1 0 -17.4 0zM946.7 466.6a8.7 8.7 0 1 0 17.4 0a8.7 8.7 0 1 0 -17.4 0zM951.3 475a8.7 8.7 0 1 0 17.4 0a8.7 8.7 0 1 0 -17.4 0zM956 482.5a8.7 8.7 0 1 0 17.4 0a8.7 8.7 0 1 0 -17.4 0zM960.6 491.5a8.7 8.7 0 1 0 17.4 0a8.7 8.7 0 1 0 -17.4 0zM965.3 495.2a8.7 8.7 0 1 0 17.4 0a8.7 8.7 0 1 0 -17.4 0z"/>
<path stroke-width="3" d="M126.7 709.2l20.6 20.6m0 -20.6l-20.6 20.6M131.4 709.2l20.6 20.6m0 -20.6l-20.6 20.6M136 709.2l20.6 20.6m0 -20.6l-20.6 20.6M140.7 709.2l20.6 20.6m0 -20.6l-20.6 20.6M145.3 709.2l20.6 20.6m0 -20.6l-20.6 20.6M149.9 709.2l20.6 20.6m0 -20.6l-20.6 20.6M154.6 709.2l20.6 20.6m0 -20.6l-20.6 20.6M159.2 709.2l20.6 20.6m0 -20.6l-20.6 20.6M163.9 709.2l20.6 20.6m0 -20.6l-20.6 20.6M168.5 709.2l20.6 20.6m0 -20.6l-20.6 20.6M173.2 709.2l20.6 20.6m0 -20.6l-20.6 20.6M177.9 709.2l20.6 20.6m0 -20.6l-20.6 20.6M182.5 709.2l20.6 20.6m0 -20.6l-20.6 20.6M187.2 709.2l20.6 20.6m0 -20.6l-20.6 20.6M191.8 709.2l20.6 20.6m0 -20.6l-20.6 20.6M196.4 709.2l20.6 20.6m0 -20.6l-20.6 20.6M201.1 709.2l20.6 20.6m0 -20.6l-20.6 20.6M205.7 709.2l20.6 20.6m0 -20.6l-20.6 20.6M210.4 709.2l20.6 20.6m0 -20.6l-20.6 20.6M215 709.2l20.6 20.6m0 -20.6l-20.6 20.6M219.7 709.2l20.6 20.6m0 -20.6l-20.6 20.6M224.4 709.2l20.6 20.6m0 -20.6l-20.6 20.6M229 709.2l20.6 20.6m0 -20.6l-20.6 20.6M233.7 709.2l20.6 20.6m0 -20.6l-20.6 20.6M238.3 709.2l20.6 20.6m0 -20.6l-20.6 20.6M242.9 709.2l20.6 20.6m0 -20.6l-20.6 20.6M247.6 709.2l20.6 20.6m0 -20.6l-20.6 20.6M252.2 709.2l20.6 20.6m0 -20.6l-20.6 20.6M256.9 709.2l20.6 20.6m0 -20.6l-20.6 20.6M261.5 709.2l20.6 20.6m0 -20.6l-20.6 20.6M266.2 709.2l20.6 20.6m0 -20.6l-20.6 20.6M270.9 709.2l20.6 20.6m0 -20.6l-20.6 20.6M275.5 709.2l20.6 20.6m0 -20.6l-20.6 20.6M280.2 709.2l20.6 20.6m0 -20.6l-20.6 20.6M284.8 709.2l20.6 20.6m0 -20.6l-20.6 20.6M289.4 709.2l20.6 20.6m0 -20.6l-20.6 20.6M294.1 709.2l20.6 20.6m0 -20.6l-20.6 20.6M298.7 709.2l20.6 20.6m0 -20.6l-20.6 20.6M303.4 709.2l20.6 20.6m0 -20.6l-20.6 20.6M308 709.2l20.6 20.6m0 -20.6l-20.6 20.6M312.7 709.2l20.6 20.6m0 -20.6l-20.6 20.6M317.3 709.2l20.6 20.6m0 -20.6l-20.6 20.6M322 709.2l20.6 20.6m0 -20.6l-20.6 20.6M326.7 709.2l20.6 20.6m0 -20.6l-20.6 20.6M331.3 709.2l20.6 20.6m0 -20.6l-20.6 20.6M335.9 709.2l20.6 20.6m0 -20.6l-20.6 20.6M340.6 709.2l20.6 20.6m0 -20.6l-20.6 20.6M345.2 709.2l20.6 20.6m0 -20.6l-20.6 20.6M349.9 709.2l20.6 20.6m0 -20.6l-20.6 20.6M354.6 709.2l20.6 20.6m0 -20.6l-20.6 20.6M359.2 709.2l20.6 20.6m0 -20.6l-20.6 20.6M363.8 709.2l20.6 20.6m0 -20.6l-20.6 20.6M368.5 709.2l20.6 20.6m0 -20.6l-20.6 20.6M373.2 709.2l20.6 20.6m0 -20.6l-20.6 20.6M377.8 709.2l20.6 20.6m0 -20.6l-20.6 20.6M382.4 709.2l20.6 20.6m0 -20.6l-20.6 20.6M387.1 709.2l20.6 20.6m0 -20.6l-20.6 20.6M391.7 709.2l20.6 20.6m0 -20.6l-20.6 20.6M396.4 709.2l20.6 20.6m0 -20.6l-20.6 20.6M401.1 709.2l20.6 20.6m0 -20.6l-20.6 20.6M405.7 709.2l20.6 20.6m0 -20.6l-20.6 20.6M410.3 709.2l20.6 20.6m0 -20.6l-20.6 20.6M415 709.2l20.6 20.6m0 -20.6l-20.6 20.6M419.7 709.2l20.6 20.6m0 -20.6l-20.6 20.6M424.3 709.2l20.6 20.6m0 -20.6l-20.6 20.6M428.9 709.2l20.6 20.6m0 -20.6l-20.6 20.6M433.6 709.2l20.6 20.6m0 -20.6l-20.6 20.6M438.2 709.2l20.6 20.6m0 -20.6l-20.6 20.6M442.9 709.2l20.6 20.6m0 -20.6l-20.6 20.6M447.6 709.2l20.6 20.6m0 -20.6l-20.6 20.6M452.2 709.2l20.6 20.6m0 -20.6l-20.6 20.6M456.8 709.2l20.6 20.6m0 -20.6l-20.6 20.6M461.5 709.2l20.6 20.6m0 -20.6l-20.6 20.6M466.2 709.2l20.6 20.6m0 -20.6l-20.6 20.6M470.8 709.2l20.6 20.6m0 -20.6l-20.6 20.6M475.4 709.2l20.6 20.6m0 -20.6l-20.6 20.6M480.1 709.2l20.6 20.6m0 -20.6l-20.6 20.6M484.7 709.2l20.6 20.6m0 -20.6l-20.6 20.6M489.4 709.2l20.6 20.6m0 -20.6l-20.6 20.6M494.1 709.2l20.6 20.6m0 -20.6l-20.6 20.6M498.7 709.2l20.6 20.6m0 -20.6l-20.6 20.6M503.3 709.2l20.6 20.6m0 -20.6l-20.6 20.6M508 709.2l20.6 20.6m0 -20.6l-20.6 20.6M512.7 709.2l20.6 20.6m0 -20.6l-20.6 20.6M517.3 709.2l20.6 20.6m0 -20.6l-20.6 20.6M522 709.2l20.6 20.6m0 -20.6l-20.6 20.6M526.6 709.2l20.6 20.6m0 -20.6l-20.6 20.6M531.2 709.2l20.6 20.6m0 -20.6l-20.6 20.6M535.9 709.2l20.6 20.6m0 -20.6l-20.6 20.6M540.6 709.2l20.6 20.6m0 -20.6l-20.6 20.6M545.2 709.2l20.6 20.6m0 -20.6l-20.6 20.6M549.9 709.2l20.6 20.6m0 -20.6l-20.6 20.6M554.5 709.2l20.6 20.6m0 -20.6l-20.6 20.6M559.2 709.2l20.6 20.6m0 -20.6l-20.6 20.6M563.8 709.2l20.6 20.6m0 -20.6l-20.6 20.6M568.5 709.2l20.6 20.6m0 -20.6l-20.6 20.6M573.1 709.2l20.6 20.6m0 -20.6l-20.6 20.6M577.8 709.2l20.6 20.6m0 -20.6l-20.6 20.6M582.4 709.2l20.6 20.6m0 -20.6l-20.6 20.6M587.1 709.2l20.6 20.6m0 -20.6l-20.6 20.6M591.7 709.2l20.6 20.6m0 -20.6l-20.6 20.6M596.4 709.2l20.6 20.6m0 -20.6l-20.6 20.6M601 709.2l20.6 20.6m0 -20.6l-20.6 20.6M605.7 709.2l20.6 20.6m0 -20.6l-20.6 20.6M610.3 709.2l20.6 20.6m0 -20.6l-20.6 20.6M615 709.2l20.6 20.6m0 -20.6l-20.6 20.6M619.6 709.2l20.6 20.6m0 -20.6l-20.6 20.6M624.2 709.2l20.6 20.6m0 -20.6l-20.6 20.6M628.9 709.2l20.6 20.6m0 -20.6l-20.6 20.6M633.6 709.2l20.6 20.6m0 -20.6l-20.6 20.6M638.2 709.1l20.6 20.6m0 -20.6l-20.6 20.6M642.9 708.9l20.6 20.6m0 -20.6l-20.6 20.6M647.5 708.7l20.6 20.6m0 -20.6l-20.6 20.6M652.2 708.4l20.6 20.6m0 -20.6l-20.6 20.6M656.8 708.1l20.6 20.6m0 -20.6l-20.6 20.6M661.5 707.8l20.6 20.6m0 -20.6l-20.6 20.6M666.1 707.4l20.6 20.6m0 -20.6l-20.6 20.6M670.8 706.9l20.6 20.6m0 -20.6l-20.6 20.6M675.4 706.1l20.6 20.6m0 -20.6l-20.6 20.6M680.1 705.1l20.6 20.6m0 -20.6l-20.6 20.6M684.7 704.1l20.6 20.6m0 -20.6l-20.6 20.6M689.4 703.1l20.6 20.6m0 -20.6l-20.6 20.6M694 702.1l20.6 20.6m0 -20.6l-20.6 20.6M698.7 701.2l20.6 20.6m0 -20.6l-20.6 20.6M703.3 700.2l20.6 20.6m0 -20.6l-20.6 20.6M708 699.1l20.6 20.6m0 -20.6l-20.6 20.6M712.6 697.7l20.6 20.6m0 -20.6l-20.6 20.6M717.2 696.1l20.6 20.6m0 -20.6l-20.6 20.6M721.9 693.8l20.6 20.6m0 -20.6l-20.6 20.6M726.6 690.9l20.6 20.6m0 -20.6l-20.6 20.6M731.2 687.3l20.6 20.6m0 -20.6l-20.6 20.6M735.9 683.4l20.6 20.6m0 -20.6l-20.6 20.6M740.5 679l20.6 20.6m0 -20.6l-20.6 20.6M745.2 674.1l20.6 20.6m0 -20.6l-20.6 20.6M749.8 667.6l20.6 20.6m0 -20.6l-20.6 20.6M754.5 660.4l20.6 20.6m0 -20.6l-20.6 20.6M759.1 652.5l20.6 20.6m0 -20.6l-20.6 20.6M763.8 644l20.6 20.6m0 -20.6l-20.6 20.6M768.4 636.7l20.6 20.6m0 -20.6l-20.6 20.6M773.1 629.2l20.6 20.6m0 -20.6l-20.6 20.6M777.7 621l20.6 20.6m0 -20.6l-20.6 20.6M782.4 612.7l20.6 20.6m0 -20.6l-20.6 20.6M787 604.5l20.6 20.6m0 -20.6l-20.6 20.6M791.7 597.5l20.6 20.6m0 -20.6l-20.6 20.6M796.3 591l20.6 20.6m0 -20.6l-20.6 20.6M801 583.9l20.6 20.6m0 -20.6l-20.6 20.6M805.6 577.4l20.6 20.6m0 -20.6l-20.6 20.6M810.2 571.3l20.6 20.6m0 -20.6l-20.6 20.6M814.9 565l20.6 20.6m0 -20.6l-20.6 20.6M819.6 560l20.6 20.6m0 -20.6l-20.6 20.6M824.2 554.6l20.6 20.6m0 -20.6l-20.6 20.6M828.9 550.5l20.6 20.6m0 -20.6l-20.6 20.6M833.5 544.8l20.6 20.6m0 -20.6l-20.6 20.6M838.2 539.7l20.6 20.6m0 -20.6l-20.6 20.6M842.8 536.2l20.6 20.6m0 -20.6l-20.6 20.6M847.5 532.6l20.6 20.6m0 -20.6l-20.6 20.6M852.1 528.8l20.6 20.6m0 -20.6l-20.6 20.6M856.8 524.3l20.6 20.6m0 -20.6l-20.6 20.6M861.4 522.4l20.6 20.6m0 -20.6l-20.6 20.6M866.1 519.2l20.6 20.6m0 -20.6l-20.6 20.6M870.7 516.8l20.6 20.6m0 -20.6l-20.6 20.6M875.4 515l20.6 20.6m0 -20.6l-20.6 20.6M880 514.1l20.6 20.6m0 -20.6l-20.6 20.6M884.7 512.4l20.6 20.6m0 -20.6l-20.6 20.6M889.3 511.7l20.6 20.6m0 -20.6l-20.6 20.6M894 510.9l20.6 20.6m0 -20.6l-20.6 20.6M898.6 511l20.6 20.6m0 -20.6l-20.6 20.6M903.2 512.1l20.6 20.6m0 -20.6l-20.6 20.6M907.9 512.8l20.6 20.6m0 -20.6l-20.6 20.6M912.5 513.9l20.6 20.6m0 -20.6l-20.6 20.6M917.2 516.7l20.6 20.6m0 -20.6l-20.6 20.6M921.9 518.3l20.6 20.6m0 -20.6l-20.6 20.6M926.5 519.9l20.6 20.6m0 -20.6l-20.6 20.6M931.2 523.5l20.6 20.6m0 -20.6l-20.6 20.6M935.8 525.8l20.6 20.6m0 -20.6l-20.6 20.6M940.5 529.9l20.6 20.6m0 -20.6l-20.6 20.6M945.1 532.3l20.6 20.6m0 -20.6l-20.6 20.6M949.8 535.4l20.6 20.6m0 -20.6l-20.6 20.6M954.4 539.9l20.6 20.6m0 -20.6l-20.6 20.6M959.1 545.7l20.6 20.6m0 -20.6l-20.6 20.6M963.7 550.3l20.6 20.6m0 -20.6l-20.6 20.6"/>
<path stroke-width="1.3" stroke-opacity="0.65" d="M137 709.2v20.6M141.7 709.2v20.6M146.3 709.2v20.6M151 709.2v20.6M155.6 709.2v20.6M160.2 709.2v20.6M164.9 709.2v20.6M169.5 709.2v20.6M174.2 709.2v20.6M178.8 709.2v20.6M183.5 709.2v20.6M188.2 709.2v20.6M192.8 709.2v20.6M197.5 709.2v20.6M202.1 709.2v20.6M206.8 709.2v20.6M211.4 709.2v20.6M216 709.2v20.6M220.7 709.2v20.6M225.3 709.2v20.6M230 709.2v20.6M234.7 709.2v20.6M239.3 709.2v20.6M244 709.2v20.6M248.6 709.2v20.6M253.2 709.2v20.6M257.9 709.2v20.6M262.5 709.2v20.6M267.2 709.2v20.6M271.8 709.2v20.6M276.5 709.2v20.6M281.2 709.2v20.6M285.8 709.2v20.6M290.5 709.2v20.6M295.1 709.2v20.6M299.8 709.2v20.6M304.4 709.2v20.6M309 709.2v20.6M313.7 709.2v20.6M318.3 709.2v20.6M323 709.2v20.6M327.6 709.2v20.6M332.3 709.2v20.6M337 709.2v20.6M341.6 709.2v20.6M346.2 709.2v20.6M350.9 709.2v20.6M355.5 709.2v20.6M360.2 709.2v20.6M364.9 709.2v20.6M369.5 709.2v20.6M374.1 709.2v20.6M378.8 709.2v20.6M383.5 709.2v20.6M388.1 709.2v20.6M392.8 709.2v20.6M397.4 709.2v20.6M402 709.2v20.6M406.7 709.2v20.6M411.4 709.2v20.6M416 709.2v20.6M420.6 709.2v20.6M425.3 709.2v20.6M430 709.2v20.6M434.6 709.2v20.6M439.2 709.2v20.6M443.9 709.2v20.6M448.5 709.2v20.6M453.2 709.2v20.6M457.9 709.2v20.6M462.5 709.2v20.6M467.1 709.2v20.6M471.8 709.2v20.6M476.5 709.2v20.6M481.1 709.2v20.6M485.8 709.2v20.6M490.4 709.2v20.6M495 709.2v20.6M499.7 709.2v20.6M504.4 709.2v20.6M509 709.2v20.6M513.6 709.2v20.6M518.3 709.2v20.6M523 709.2v20.6M527.6 709.2v20.6M532.2 709.2v20.6M536.9 709.2v20.6M541.5 709.2v20.6M546.2 709.2v20.6M550.9 709.2v20.6M555.5 709.2v20.6M560.1 709.2v20.6M564.8 709.2v20.6M569.5 709.2v20.6M574.1 709.2v20.6M578.8 709.2v20.6M583.4 709.2v20.6M588 709.2v20.6M592.7 709.2v20.6M597.4 709.2v20.6M602 709.2v20.6M606.6 709.2v20.6M611.3 709.2v20.6M616 709.2v20.6M620.6 709.2v20.6M625.2 709.2v20.6M629.9 709.2v20.6M634.5 709.2v20.6M639.2 709.2v20.6M643.9 709.2v20.6M648.5 709.1v20.6M653.1 708.9v20.6M657.8 708.7v20.6M662.5 708.4v20.6M667.1 708.1v20.6M671.8 707.8v20.6M676.4 707.4v20.6M681 706.9v20.6M685.7 706.1v20.6M690.4 705.1v20.6M695 704.1v20.6M699.6 703.1v20.6M704.3 702.1v20.6M709 701.2v20.6M713.6 700.2v20.6M718.2 699.1v20.6M722.9 697.7v20.6M727.5 696.1v20.6M732.2 693.8v20.6M736.9 690.9v20.6M741.5 687.3v20.6M746.1 683.4v20.6M750.8 679v20.6M755.5 674.1v20.6M760.1 667.6v20.6M764.8 660.4v20.6M769.4 652.5v20.6M774 644v20.6M778.7 636.7v20.6M783.4 629.2v20.6M788 621v20.6M792.6 612.7v20.6M797.3 604.5v20.6M802 597.5v20.6M806.6 591v20.6M811.2 583.9v20.6M815.9 577.4v20.6M820.5 571.3v20.6M825.2 565v20.6M829.9 560v20.6M834.5 554.6v20.6M839.1 550.5v20.6M843.8 544.8v20.6M848.5 539.7v20.6M853.1 536.2v20.6M857.8 532.6v20.6M862.4 528.8v20.6M867 524.3v20.6M871.7 522.4v20.6M876.4 519.2v20.6M881 516.8v20.6M885.7 515v20.6M890.3 514.1v20.6M895 512.4v20.6M899.6 511.7v20.6M904.2 510.9v20.6M908.9 511v20.6M913.5 512.1v20.6M918.2 512.8v20.6M922.8 513.9v20.6M927.5 516.7v20.6M932.2 518.3v20.6M936.8 519.9v20.6M941.5 523.5v20.6M946.1 525.8v20.6M950.8 529.9v20.6M955.4 532.3v20.6M960 535.4v20.6M964.7 539.9v20.6M969.4 545.7v20.6M974 550.3v20.6"/>
</g>
<g fill="none" stroke="#000" stroke-width="2.6">
<path d="M175.5 46h13v13h-13z"/>
<path d="M183.3 102.1l10.2 9.9l-10.2 9.9l-10.2 -9.9z"/>
<path d="M183.3 161l9.8 18h-19.6z"/>
<path d="M172.8 224.8a9.7 9.7 0 1 0 19.4 0a9.7 9.7 0 1 0 -19.4 0z"/>
<path d="M173 273.2l20.6 20.6m0 -20.6l-20.6 20.6"/>
<path stroke-width="1.5" stroke-opacity="0.75" d="M183.3 273.2v20.6"/>
</g>
<g font-size="38">
<text x="206" y="67.3">Pre</text>
<text x="205.5" y="125.6">3×10<tspan font-size="24" dx="3" dy="-11.5">13</tspan></text>
<text x="205.5" y="183.2">1×10<tspan font-size="24" dx="3" dy="-11.5">14</tspan></text>
<text x="205.5" y="240.3">3×10<tspan font-size="24" dx="3" dy="-11.5">14</tspan></text>
<text x="205.5" y="296.7">1×10<tspan font-size="24" dx="3" dy="-11.5">15</tspan></text>
</g>
</g>
<g id="bottom-chart">
<path d="M149 882.7H1120.5V1649.3" fill="none" stroke="#333" stroke-width="2.4"/>
<path d="M149 881.2V1649.3H1121.5" fill="none" stroke="#000" stroke-width="4.4"/>
<path d="M133.5 1649.3H149M133.5 1553.5H149M133.5 1457.7H149M133.5 1361.8H149M133.5 1266H149M133.5 1170.2H149M133.5 1074.3H149M133.5 978.5H149M133.5 882.7H149M149 1649.3V1664.3M343.3 1649.3V1664.3M537.6 1649.3V1664.3M731.9 1649.3V1664.3M926.2 1649.3V1664.3M1120.5 1649.3V1664.3" fill="none" stroke="#000" stroke-width="3.2"/>
<g font-size="40" text-anchor="end" letter-spacing="1">
<text x="118.5" y="1664.1">0</text>
<text x="118.5" y="1568.3">10</text>
<text x="118.5" y="1472.5">20</text>
<text x="118.5" y="1376.6">30</text>
<text x="118.5" y="1280.8">40</text>
<text x="118.5" y="1185">50</text>
<text x="118.5" y="1089.1">60</text>
<text x="118.5" y="993.3">70</text>
<text x="118.5" y="897.5">80</text>
</g>
<g font-size="40" text-anchor="middle" letter-spacing="1">
<text x="147.5" y="1710.5">0.01</text>
<text x="341.8" y="1710.5">0.1</text>
<text x="536.1" y="1710.5">1</text>
<text x="730.4" y="1710.5">10</text>
<text x="924.7" y="1710.5">100</text>
<text x="1118.5" y="1710.5">1000</text>
</g>
<text x="416" y="1784.7" font-size="44" textLength="367" lengthAdjust="spacingAndGlyphs">Fluence (10<tspan font-size="30" dy="-22">13</tspan><tspan dy="22"> cm</tspan><tspan font-size="30" dy="-22">-2</tspan><tspan dy="22" dx="-3">)</tspan></text>
<text transform="translate(38.2 1396) rotate(-90)" font-size="47" textLength="258" lengthAdjust="spacingAndGlyphs">G<tspan font-size="24">M</tspan> (mS/mm)</text>
<path d="M241 1003.7C257.9 1003.7 309.9 1003 342.3 1003.5C374.8 1004 403.3 1004.3 435.7 1006.8C468.1 1009.2 504.7 1017 536.7 1018.2C568.7 1019.5 595.8 1009 627.8 1014.3C659.8 1019.6 696.4 1028.2 728.8 1049.9C761.2 1071.6 789.5 1079.4 822 1144.2C854.5 1209 906.8 1389.6 923.7 1438.7" fill="none" stroke="#000" stroke-width="4.4" stroke-linejoin="round"/>
<path d="M230.5 993.2h21v21h-21zM331.8 993h21v21h-21zM425.2 996.3h21v21h-21zM526.2 1007.7h21v21h-21zM617.3 1003.8h21v21h-21zM718.3 1039.4h21v21h-21zM811.5 1133.7h21v21h-21zM913.2 1428.2h21v21h-21z" fill="#000"/>
</g>
</g>
</svg></body></html>
